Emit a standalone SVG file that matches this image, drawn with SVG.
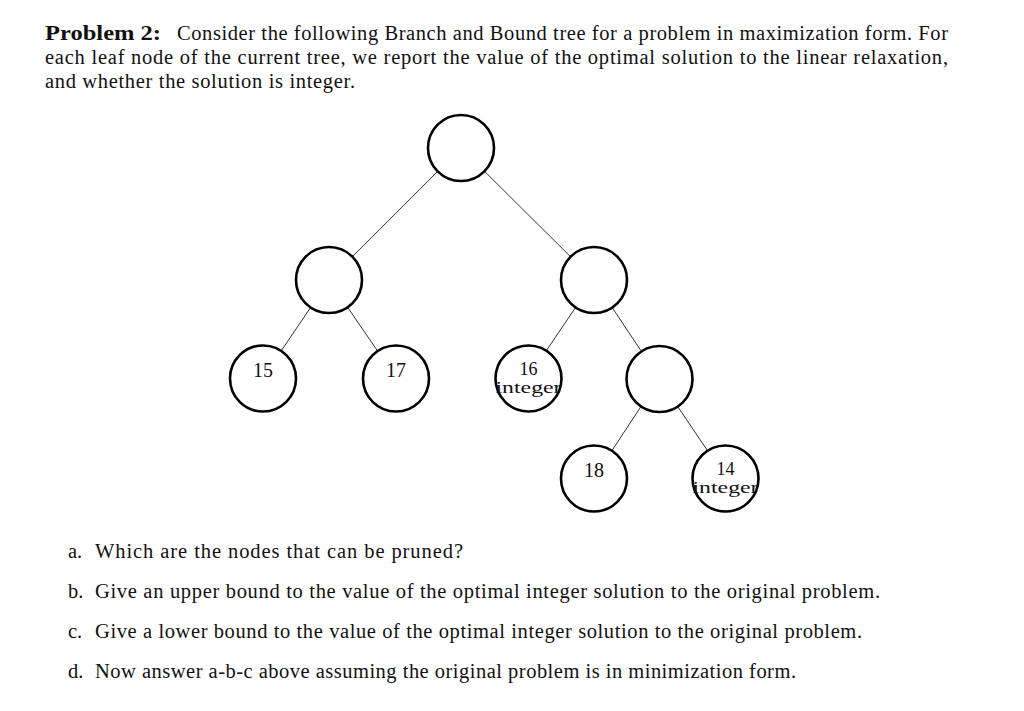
<svg xmlns="http://www.w3.org/2000/svg" width="1024" height="711" viewBox="0 0 1024 711">
<style>
text{font-family:"Liberation Serif","DejaVu Serif",serif;fill:#111;}
.p{font-size:20.5px;}
.b{font-weight:bold;}
.n{fill:#fff;stroke:#000;stroke-width:2.6;}
.lbl{font-size:20px;text-anchor:middle;}
.sm{font-size:18px;text-anchor:middle;}
.it{font-size:17px;text-anchor:middle;}
.e{stroke:#333;stroke-width:1;fill:none;}
</style>
<rect width="1024" height="711" fill="#fff"/>
<g id="intro">
<text class="p b" x="45" y="40" textLength="116" lengthAdjust="spacingAndGlyphs">Problem 2:</text>
<text class="p" x="177" y="40" textLength="771" lengthAdjust="spacing">Consider the following Branch and Bound tree for a problem in maximization form. For</text>
<text class="p" x="45" y="64" textLength="903" lengthAdjust="spacing">each leaf node of the current tree, we report the value of the optimal solution to the linear relaxation,</text>
<text class="p" x="45" y="88" textLength="310" lengthAdjust="spacing">and whether the solution is integer.</text>
</g>
<g id="connectors">
<line class="e" x1="437.7" y1="171.3" x2="352.3" y2="256.7"/>
<line class="e" x1="484.4" y1="171.2" x2="570.6" y2="256.8"/>
<line class="e" x1="310.6" y1="307.4" x2="281.4" y2="350.6"/>
<line class="e" x1="347.6" y1="307.3" x2="377.4" y2="350.7"/>
<line class="e" x1="575.6" y1="307.4" x2="546.4" y2="350.6"/>
<line class="e" x1="612.2" y1="307.5" x2="640.8" y2="350.5"/>
<line class="e" x1="640.9" y1="406.6" x2="612.1" y2="450.4"/>
<line class="e" x1="677.5" y1="406.3" x2="707.5" y2="450.7"/>
</g>
<g id="root"><circle class="n" cx="461" cy="148" r="33"/></g>
<g id="n-left"><circle class="n" cx="329" cy="280" r="33"/></g>
<g id="n-right"><circle class="n" cx="594" cy="280" r="33"/></g>
<g id="n15"><circle class="n" cx="263" cy="378.5" r="33"/><text class="lbl" x="263" y="377">15</text></g>
<g id="n17"><circle class="n" cx="396" cy="378.5" r="33"/><text class="lbl" x="396" y="377">17</text></g>
<g id="n16"><circle class="n" cx="528.5" cy="378.5" r="33"/><text class="sm" x="528.5" y="375">16</text><text class="it" x="528.5" y="393" textLength="66" lengthAdjust="spacingAndGlyphs">integer</text></g>
<g id="n-rr"><circle class="n" cx="659.5" cy="379" r="33"/></g>
<g id="n18"><circle class="n" cx="594" cy="478.5" r="33"/><text class="lbl" x="594" y="477">18</text></g>
<g id="n14"><circle class="n" cx="725.5" cy="478.5" r="33"/><text class="sm" x="725.5" y="475">14</text><text class="it" x="725.5" y="493" textLength="66" lengthAdjust="spacingAndGlyphs">integer</text></g>
<g id="questions">
<text class="p" x="68" y="558">a.</text><text class="p" x="95" y="558" textLength="368" lengthAdjust="spacing">Which are the nodes that can be pruned?</text>
<text class="p" x="68" y="598">b.</text><text class="p" x="95" y="598" textLength="785" lengthAdjust="spacing">Give an upper bound to the value of the optimal integer solution to the original problem.</text>
<text class="p" x="68" y="638">c.</text><text class="p" x="95" y="638" textLength="767" lengthAdjust="spacing">Give a lower bound to the value of the optimal integer solution to the original problem.</text>
<text class="p" x="68" y="678">d.</text><text class="p" x="95" y="678" textLength="701" lengthAdjust="spacing">Now answer a-b-c above assuming the original problem is in minimization form.</text>
</g>
</svg>
